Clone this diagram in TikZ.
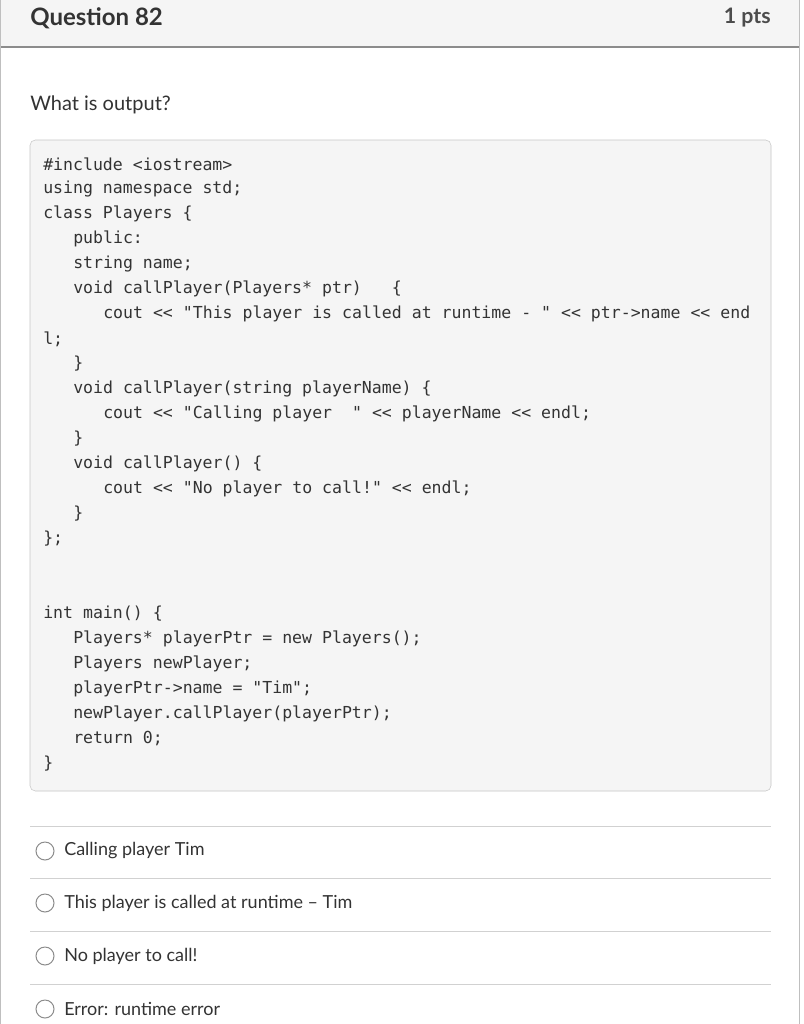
\documentclass[tikz,border=0pt]{standalone}
\usepackage{fontspec}
\setmainfont{Lato}
\newfontfamily\codefont{DejaVu Sans Mono}
\begin{document}
\begin{tikzpicture}[x=0.75pt,y=-0.75pt,
  code/.style={anchor=west,inner sep=0pt,font=\codefont\fontsize{12.4pt}{14pt}\selectfont,text=black!80},
  opt/.style={anchor=west,inner sep=0pt,font=\fontsize{13.5pt}{16pt}\selectfont,text=black!80},
  sep/.style={draw=black!18,line width=0.75pt},
  radio/.style={circle,draw=black!45,line width=0.75pt,minimum size=13.5pt,inner sep=0pt}]
\useasboundingbox (0,0) rectangle (803,1024);
\fill[white] (0,0) rectangle (803,1024);
\fill[black!4] (0,0) rectangle (800,47);
\draw[black!45,line width=1pt] (0,47) -- (800,47);
\draw[black!25] (0.5,0) -- (0.5,1024) (799.5,0) -- (799.5,1024);
\node[anchor=west,inner sep=0pt,font=\bfseries\fontsize{18pt}{20pt}\selectfont,text=black!80] (q) at (30,18) {Question 82};
\node[anchor=east,inner sep=0pt,font=\bfseries\fontsize{16pt}{20pt}\selectfont,text=black!70] (p) at (771,18) {1 pts};
\node[anchor=west,inner sep=0pt,font=\fontsize{15pt}{18pt}\selectfont,text=black!80] (w) at (30,105) {What is output?};
\draw[draw=black!22,fill=black!4,rounded corners=4pt] (30,140) rectangle (771,791);
\node[code] (l1) at (43,164) {\#include <iostream>};
\node[code] (l2) at (43,189) {using namespace std;};
\node[code] (l3) at (43,214) {class Players \{};
\node[code] (l4) at (73,239) {public:};
\node[code] (l5) at (73,264) {string name;};
\node[code] (l6) at (73,289) {void callPlayer(Players* ptr)\ \ \ \{};
\node[code] (l7) at (103,314) {cout << "This player is called at runtime - " << ptr->name << end};
\node[code] (l8) at (43,339) {l;};
\node[code] (l9) at (73,364) {\}};
\node[code] (l10) at (73,389) {void callPlayer(string playerName) \{};
\node[code] (l11) at (103,414) {cout << "Calling player\ \ " << playerName << endl;};
\node[code] (l12) at (73,439) {\}};
\node[code] (l13) at (73,464) {void callPlayer() \{};
\node[code] (l14) at (103,489) {cout << "No player to call!" << endl;};
\node[code] (l15) at (73,514) {\}};
\node[code] (l16) at (43,539) {\};};
\node[code] (l17) at (43,614) {int main() \{};
\node[code] (l18) at (73,639) {Players* playerPtr = new Players();};
\node[code] (l19) at (73,664) {Players newPlayer;};
\node[code] (l20) at (73,689) {playerPtr->name = "Tim";};
\node[code] (l21) at (73,714) {newPlayer.callPlayer(playerPtr);};
\node[code] (l22) at (73,739) {return 0;};
\node[code] (l23) at (43,764) {\}};
\foreach \y in {826,878,931,984} \draw[sep] (30,\y) -- (771,\y);
\node[radio] (r1) at (45,851) {};
\node[radio] (r2) at (45,903) {};
\node[radio] (r3) at (45,956) {};
\node[radio] (r4) at (45,1009) {};
\node[opt] (o1) at (64,851) {Calling player Tim};
\node[opt] (o2) at (64,903) {This player is called at runtime – Tim};
\node[opt] (o3) at (64,956) {No player to call!};
\node[opt] (o4) at (64,1009) {Error: runtime error};
\end{tikzpicture}
\end{document}
